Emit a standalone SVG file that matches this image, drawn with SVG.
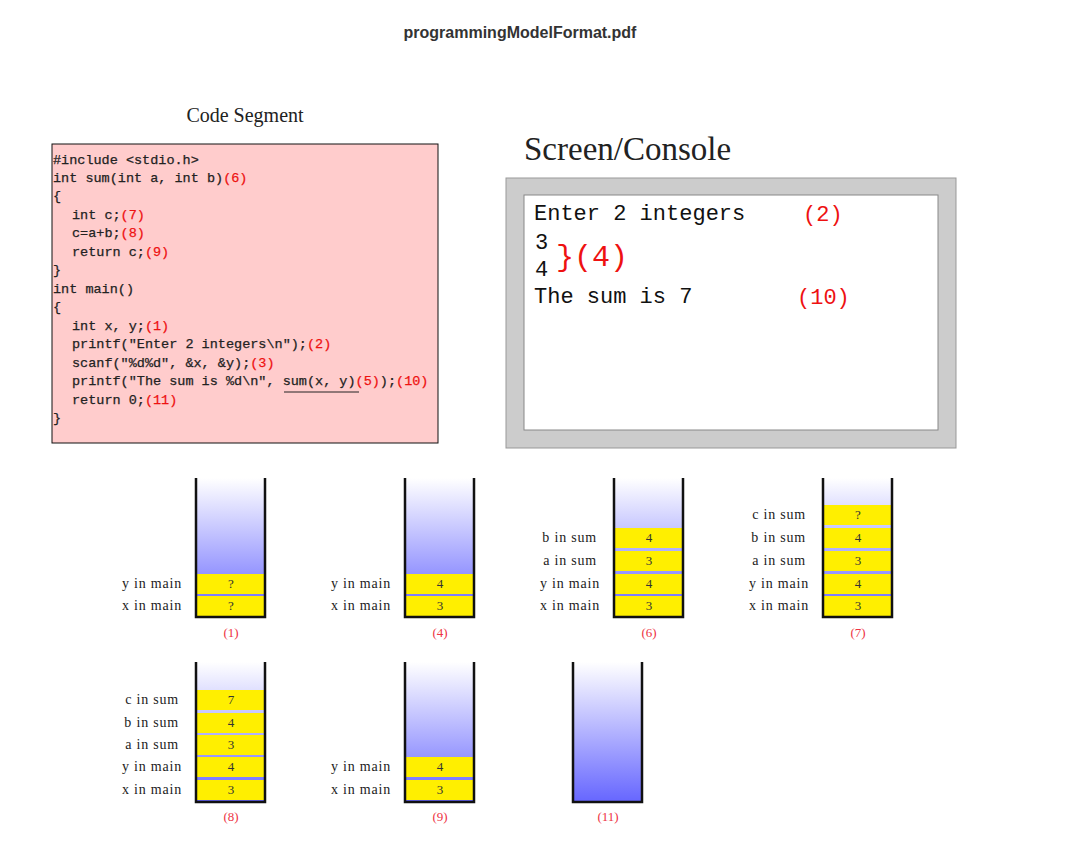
<svg xmlns="http://www.w3.org/2000/svg" width="1066" height="860" viewBox="0 0 1066 860">
<style>
.code{font-family:"Liberation Mono",monospace;font-size:13.5px;fill:#222;stroke:#222;stroke-width:0.25}
.code .r{stroke:#ee1111}
.con{font-family:"Liberation Mono",monospace;font-size:22px;fill:#111}
.code .r,.con.r,.r{fill:#ee1111}
.lbl{font-family:"Liberation Serif",serif;font-size:14px;letter-spacing:0.8px;fill:#222;text-anchor:end}
.val{font-family:"Liberation Serif",serif;font-size:13px;fill:#333;text-anchor:middle}
.cap{font-family:"Liberation Serif",serif;font-size:13px;fill:#ee3344;text-anchor:middle}
.cell{fill:#ffef00}
.wall{fill:none;stroke:#111;stroke-width:2.5}
</style>
<defs>
<linearGradient id="g" x1="0" y1="0" x2="0" y2="1">
<stop offset="0" stop-color="#ffffff"/><stop offset="1" stop-color="#6666ff"/>
</linearGradient>
</defs>
<rect width="1066" height="860" fill="#fff"/>
<text x="520" y="38" text-anchor="middle" font-family="Liberation Sans,sans-serif" font-size="16" font-weight="bold" fill="#333">programmingModelFormat.pdf</text>
<text x="245" y="122" text-anchor="middle" font-family="Liberation Serif,serif" font-size="20" fill="#222">Code Segment</text>
<g id="code">
<rect x="52" y="144" width="386" height="299" fill="#ffcccc" stroke="#111" stroke-width="1"/>
<text class="code" x="53" y="164">#include &lt;stdio.h&gt;</text>
<text class="code" x="53" y="182">int sum(int a, int b)<tspan class="r">(6)</tspan></text>
<text class="code" x="53" y="200">{</text>
<text class="code" x="72" y="219">int c;<tspan class="r">(7)</tspan></text>
<text class="code" x="72" y="237">c=a+b;<tspan class="r">(8)</tspan></text>
<text class="code" x="72" y="256">return c;<tspan class="r">(9)</tspan></text>
<text class="code" x="53" y="274">}</text>
<text class="code" x="53" y="293">int main()</text>
<text class="code" x="53" y="311">{</text>
<text class="code" x="72" y="330">int x, y;<tspan class="r">(1)</tspan></text>
<text class="code" x="72" y="348">printf("Enter 2 integers\n");<tspan class="r">(2)</tspan></text>
<text class="code" x="72" y="367">scanf("%d%d", &amp;x, &amp;y);<tspan class="r">(3)</tspan></text>
<text class="code" x="72" y="385">printf("The sum is %d\n", sum(x, y)<tspan class="r">(5)</tspan>);<tspan class="r">(10)</tspan></text>
<line x1="284" y1="392" x2="359" y2="392" stroke="#222" stroke-width="1"/>
<text class="code" x="72" y="404">return 0;<tspan class="r">(11)</tspan></text>
<text class="code" x="53" y="422">}</text>
</g>
<g id="console">
<text x="524" y="160" font-family="Liberation Serif,serif" font-size="33" fill="#222">Screen/Console</text>
<rect x="506" y="178" width="450" height="270" fill="#cccccc" stroke="#999"/>
<rect x="524" y="195" width="414" height="235" fill="#fff" stroke="#888"/>
<text class="con" x="534" y="220">Enter 2 integers</text>
<text class="con r" x="803" y="221">(2)</text>
<text class="con" x="535" y="249">3</text>
<text class="con" x="535" y="276">4</text>
<text class="con r" x="556" y="266" style="font-size:30px">}(4)</text>
<text class="con" x="534" y="303">The sum is 7</text>
<text class="con r" x="797" y="304">(10)</text>
</g>
<g id="stack1">
<rect x="196" y="478" width="69" height="139" fill="url(#g)"/>
<rect class="cell" x="197" y="596" width="67" height="20"/><rect class="cell" x="197" y="574" width="67" height="20"/>
<path class="wall" d="M196 478V617H265V478"/>
<text class="val" x="231" y="610">?</text><text class="val" x="231" y="588">?</text>
<text class="lbl" x="182" y="610">x in main</text><text class="lbl" x="182" y="588">y in main</text>
<text class="cap" x="231" y="637">(1)</text>
</g>
<g id="stack4">
<rect x="405" y="478" width="69" height="139" fill="url(#g)"/>
<rect class="cell" x="406" y="596" width="67" height="20"/><rect class="cell" x="406" y="574" width="67" height="20"/>
<path class="wall" d="M405 478V617H474V478"/>
<text class="val" x="440" y="610">3</text><text class="val" x="440" y="588">4</text>
<text class="lbl" x="391" y="610">x in main</text><text class="lbl" x="391" y="588">y in main</text>
<text class="cap" x="440" y="637">(4)</text>
</g>
<g id="stack6">
<rect x="614" y="478" width="69" height="139" fill="url(#g)"/>
<rect class="cell" x="615" y="596" width="67" height="20"/><rect class="cell" x="615" y="574" width="67" height="20"/>
<rect class="cell" x="615" y="551" width="67" height="20"/><rect class="cell" x="615" y="528" width="67" height="20"/>
<path class="wall" d="M614 478V617H683V478"/>
<text class="val" x="649" y="610">3</text><text class="val" x="649" y="588">4</text><text class="val" x="649" y="565">3</text><text class="val" x="649" y="542">4</text>
<text class="lbl" x="600" y="610">x in main</text><text class="lbl" x="600" y="588">y in main</text><text class="lbl" x="597" y="565">a in sum</text><text class="lbl" x="597" y="542">b in sum</text>
<text class="cap" x="649" y="637">(6)</text>
</g>
<g id="stack7">
<rect x="823" y="478" width="69" height="139" fill="url(#g)"/>
<rect class="cell" x="824" y="596" width="67" height="20"/><rect class="cell" x="824" y="574" width="67" height="20"/>
<rect class="cell" x="824" y="551" width="67" height="20"/><rect class="cell" x="824" y="528" width="67" height="20"/>
<rect class="cell" x="824" y="505" width="67" height="20"/>
<path class="wall" d="M823 478V617H892V478"/>
<text class="val" x="858" y="610">3</text><text class="val" x="858" y="588">4</text><text class="val" x="858" y="565">3</text><text class="val" x="858" y="542">4</text><text class="val" x="858" y="519">?</text>
<text class="lbl" x="809" y="610">x in main</text><text class="lbl" x="809" y="588">y in main</text><text class="lbl" x="806" y="565">a in sum</text><text class="lbl" x="806" y="542">b in sum</text><text class="lbl" x="806" y="519">c in sum</text>
<text class="cap" x="858" y="637">(7)</text>
</g>
<g id="stack8">
<rect x="196" y="662" width="69" height="140" fill="url(#g)"/>
<rect class="cell" x="197" y="780" width="67" height="20"/><rect class="cell" x="197" y="757" width="67" height="20"/>
<rect class="cell" x="197" y="735" width="67" height="20"/><rect class="cell" x="197" y="713" width="67" height="20"/>
<rect class="cell" x="197" y="690" width="67" height="20"/>
<path class="wall" d="M196 662V802H265V662"/>
<text class="val" x="231" y="794">3</text><text class="val" x="231" y="771">4</text><text class="val" x="231" y="749">3</text><text class="val" x="231" y="727">4</text><text class="val" x="231" y="704">7</text>
<text class="lbl" x="182" y="794">x in main</text><text class="lbl" x="182" y="771">y in main</text><text class="lbl" x="179" y="749">a in sum</text><text class="lbl" x="179" y="727">b in sum</text><text class="lbl" x="179" y="704">c in sum</text>
<text class="cap" x="231" y="821">(8)</text>
</g>
<g id="stack9">
<rect x="405" y="662" width="69" height="140" fill="url(#g)"/>
<rect class="cell" x="406" y="780" width="67" height="20"/><rect class="cell" x="406" y="757" width="67" height="20"/>
<path class="wall" d="M405 662V802H474V662"/>
<text class="val" x="440" y="794">3</text><text class="val" x="440" y="771">4</text>
<text class="lbl" x="391" y="794">x in main</text><text class="lbl" x="391" y="771">y in main</text>
<text class="cap" x="440" y="821">(9)</text>
</g>
<g id="stack11">
<rect x="573" y="662" width="69" height="140" fill="url(#g)"/>
<path class="wall" d="M573 662V802H642V662"/>
<text class="cap" x="608" y="821">(11)</text>
</g>
<g id="connectors"/>
</svg>
